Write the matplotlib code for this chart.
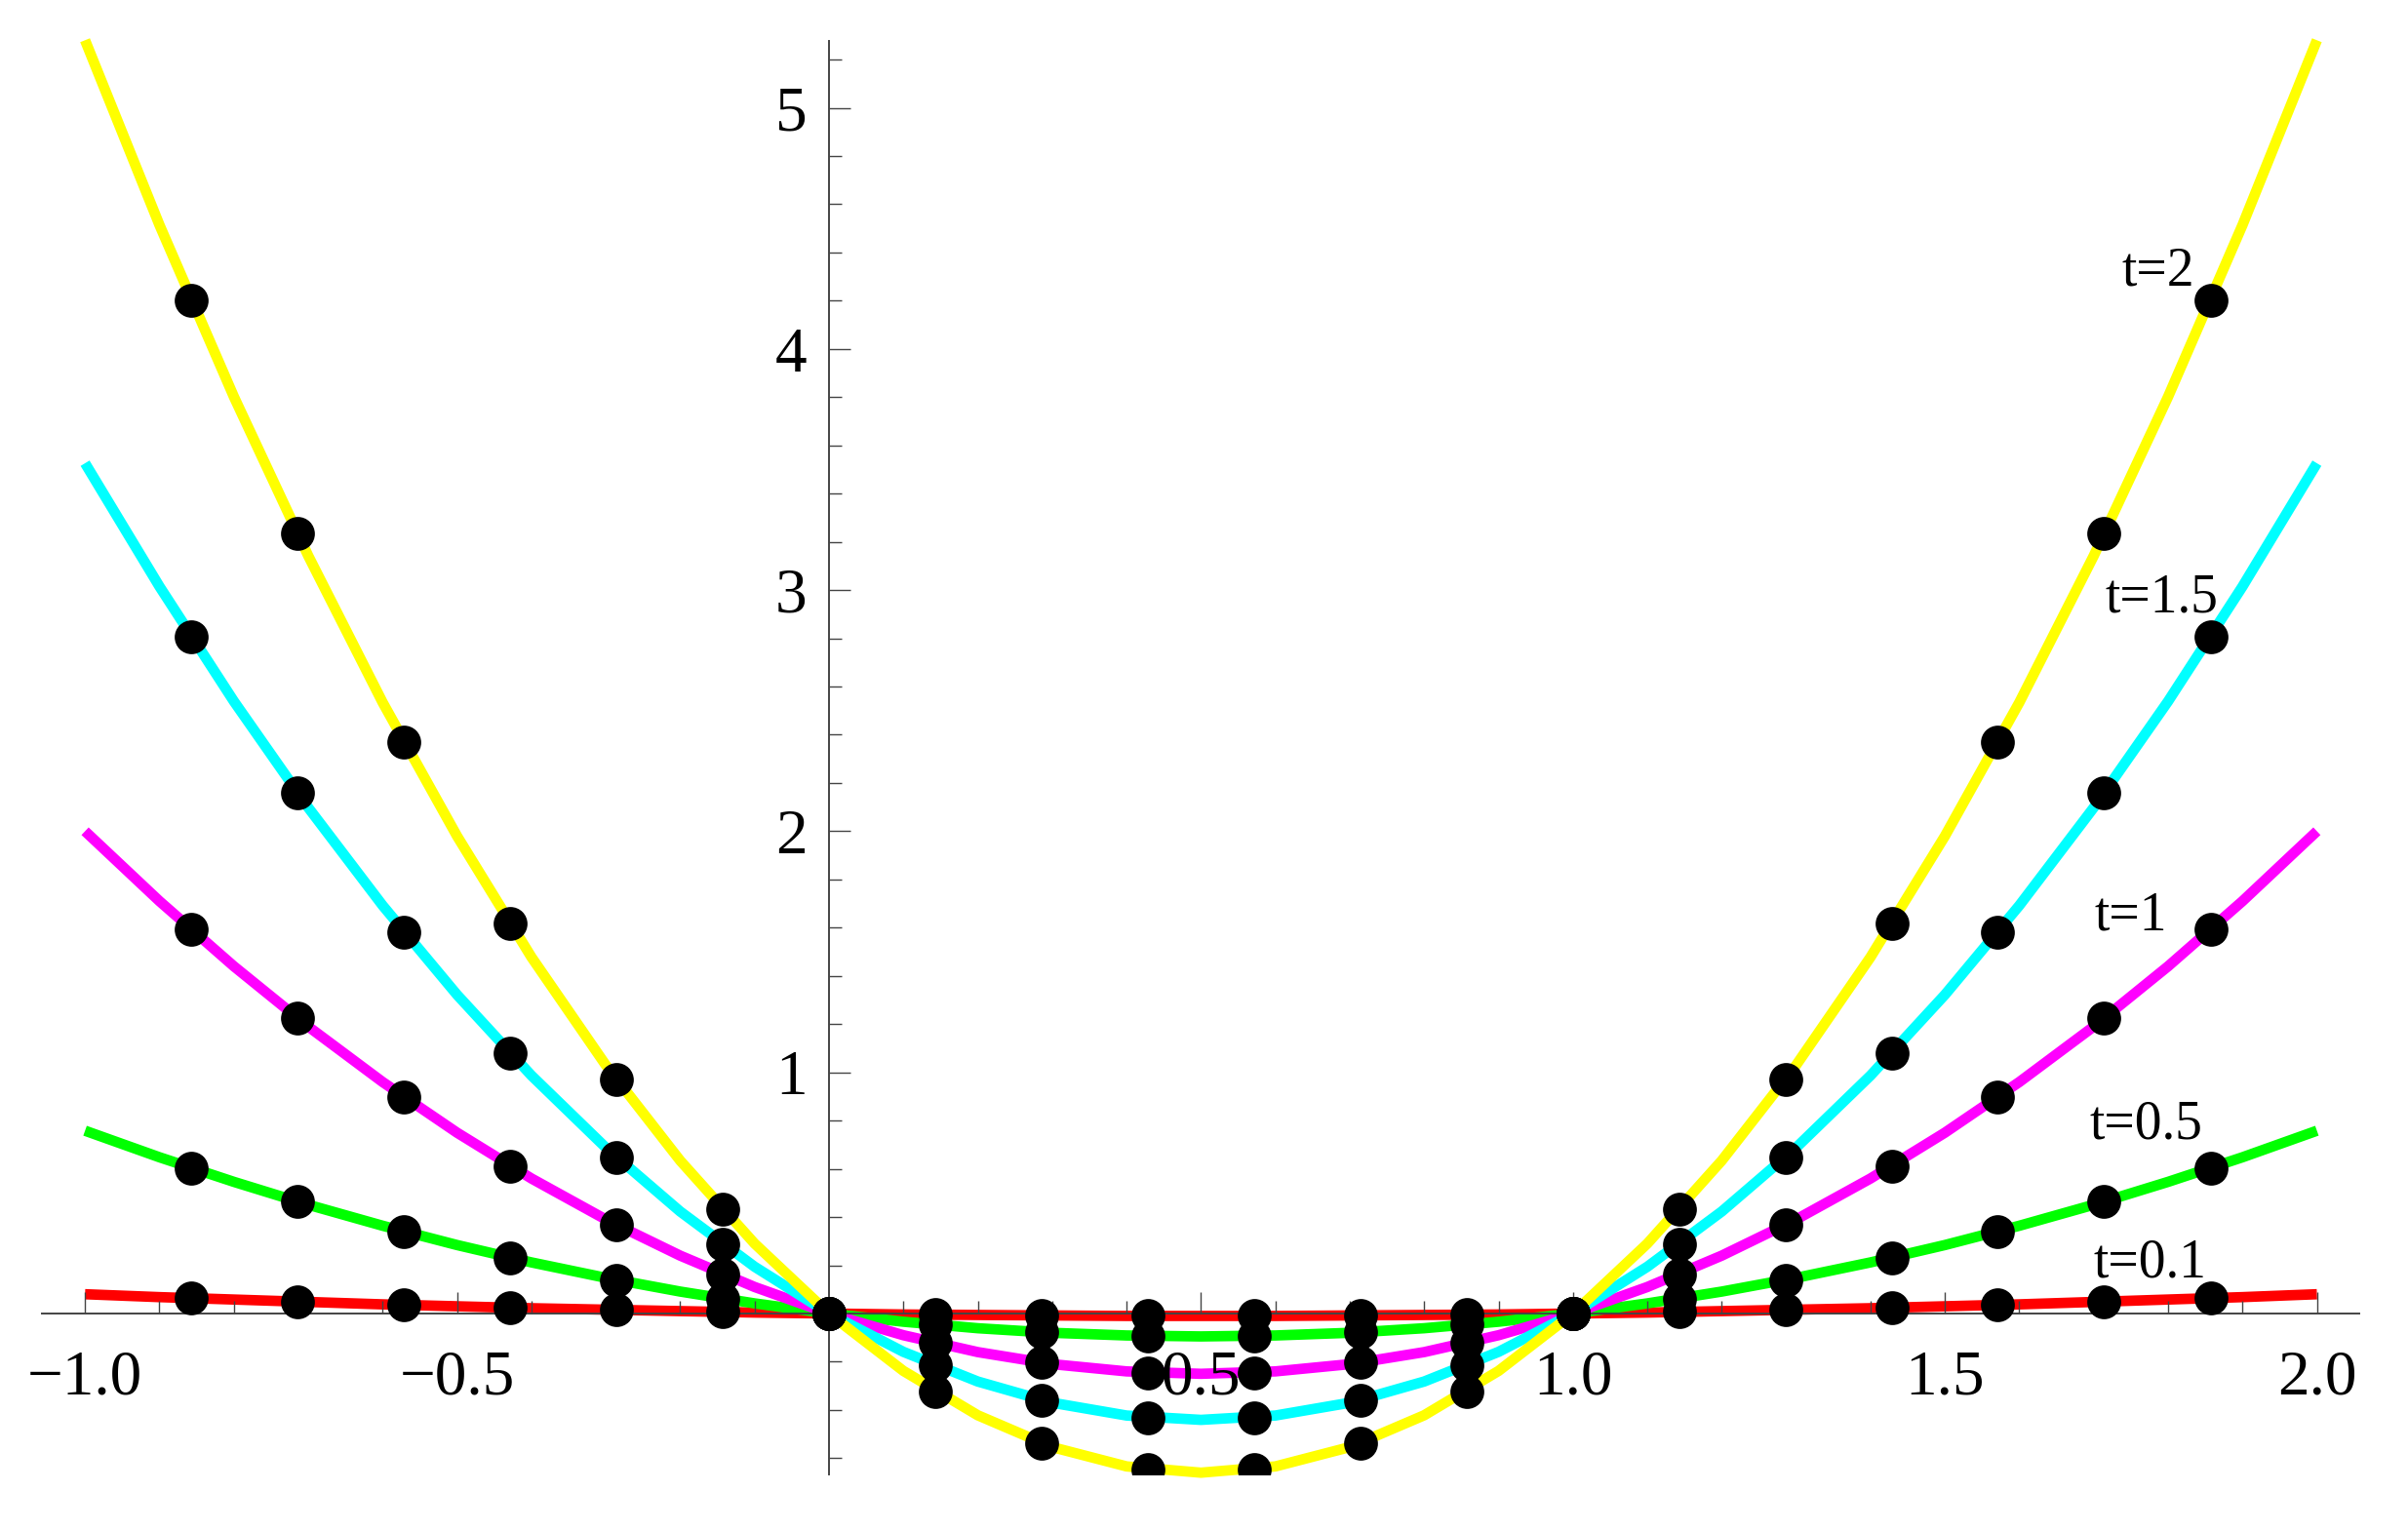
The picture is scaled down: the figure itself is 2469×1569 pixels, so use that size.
import matplotlib
matplotlib.use("Agg")
import matplotlib.pyplot as plt
from matplotlib.ticker import FixedLocator, FixedFormatter

# ---- data ----
labels = ["t=0.1", "t=0.5", "t=1", "t=1.5", "t=2"]
colors = ["#ff0000", "#00ff00", "#ff00ff", "#00ffff", "#ffff00"]

# curve samples (x step 0.1 from -1 to 2)
x_line = [-1.0, -0.9, -0.8, -0.7, -0.6, -0.5, -0.4, -0.3, -0.2, -0.1, 0.0,
          0.1, 0.2, 0.3, 0.4, 0.5, 0.6, 0.7, 0.8, 0.9, 1.0,
          1.1, 1.2, 1.3, 1.4, 1.5, 1.6, 1.7, 1.8, 1.9, 2.0]
y_t01 = [0.080, 0.068, 0.058, 0.048, 0.038, 0.030, 0.022, 0.016, 0.010, 0.004, 0.0,
         -0.004, -0.006, -0.008, -0.010, -0.010, -0.010, -0.008, -0.006, -0.004, 0.0,
         0.004, 0.010, 0.016, 0.022, 0.030, 0.038, 0.048, 0.058, 0.068, 0.080]
y_t05 = [0.758, 0.648, 0.546, 0.451, 0.364, 0.284, 0.212, 0.148, 0.091, 0.042, 0.0,
         -0.034, -0.061, -0.080, -0.091, -0.095, -0.091, -0.080, -0.061, -0.034, 0.0,
         0.042, 0.091, 0.148, 0.212, 0.284, 0.364, 0.451, 0.546, 0.648, 0.758]
y_t1 = [2.00, 1.71, 1.44, 1.19, 0.96, 0.75, 0.56, 0.39, 0.24, 0.11, 0.0,
        -0.09, -0.16, -0.21, -0.24, -0.25, -0.24, -0.21, -0.16, -0.09, 0.0,
        0.11, 0.24, 0.39, 0.56, 0.75, 0.96, 1.19, 1.44, 1.71, 2.00]
y_t15 = [3.526, 3.015, 2.539, 2.098, 1.692, 1.322, 0.987, 0.688, 0.423, 0.194, 0.0,
         -0.159, -0.282, -0.370, -0.423, -0.441, -0.423, -0.370, -0.282, -0.159, 0.0,
         0.194, 0.423, 0.688, 0.987, 1.322, 1.692, 2.098, 2.539, 3.015, 3.526]
y_t2 = [5.280, 4.514, 3.802, 3.142, 2.534, 1.980, 1.478, 1.030, 0.634, 0.290, 0.0,
        -0.238, -0.422, -0.554, -0.634, -0.660, -0.634, -0.554, -0.422, -0.238, 0.0,
        0.290, 0.634, 1.030, 1.478, 1.980, 2.534, 3.142, 3.802, 4.514, 5.280]

# dot samples
x_dots = [-0.857, -0.714, -0.571, -0.429, -0.286, -0.143, 0.0, 0.143, 0.286, 0.429,
          0.571, 0.714, 0.857, 1.0, 1.143, 1.286, 1.429, 1.571, 1.714, 1.857]
d_t01 = [0.064, 0.049, 0.036, 0.024, 0.015, 0.007, 0.0, -0.005, -0.008, -0.010,
         -0.010, -0.008, -0.005, 0.0, 0.007, 0.015, 0.024, 0.036, 0.049, 0.064]
d_t05 = [0.603, 0.464, 0.340, 0.232, 0.139, 0.062, 0.0, -0.046, -0.077, -0.093,
         -0.093, -0.077, -0.046, 0.0, 0.062, 0.139, 0.232, 0.340, 0.464, 0.603]
d_t1 = [1.592, 1.224, 0.898, 0.612, 0.367, 0.163, 0.0, -0.122, -0.204, -0.245,
        -0.245, -0.204, -0.122, 0.0, 0.163, 0.367, 0.612, 0.898, 1.224, 1.592]
d_t15 = [2.806, 2.159, 1.583, 1.079, 0.648, 0.288, 0.0, -0.216, -0.360, -0.432,
         -0.432, -0.360, -0.216, 0.0, 0.288, 0.648, 1.079, 1.583, 2.159, 2.806]
d_t2 = [4.202, 3.233, 2.371, 1.616, 0.970, 0.431, 0.0, -0.323, -0.539, -0.647,
        -0.647, -0.539, -0.323, 0.0, 0.431, 0.970, 1.616, 2.371, 3.233, 4.202]

# label anchor positions (data coords)
label_x = [1.776, 1.771, 1.750, 1.791, 1.786]
label_y = [0.21, 0.784, 1.646, 2.968, 4.32]

x_major = [-1.0, -0.5, 0.5, 1.0, 1.5, 2.0]
x_major_labels = ["\u22121.0", "\u22120.5", "0.5", "1.0", "1.5", "2.0"]
y_major = [1, 2, 3, 4, 5]
y_major_labels = ["1", "2", "3", "4", "5"]

curves = [y_t01, y_t05, y_t1, y_t15, y_t2]
dots = [d_t01, d_t05, d_t1, d_t15, d_t2]

# ---- figure ----
plt.rcParams['font.family'] = ['Liberation Serif', 'DejaVu Serif']
W, H = 2469, 1569
fig = plt.figure(figsize=(W / 100, H / 100), dpi=100)
left_px, right_px, top_px, bottom_px = 43, 2419, 42, 1512
ax = fig.add_axes([left_px / W, 1 - bottom_px / H, (right_px - left_px) / W, (bottom_px - top_px) / H])
x0_px, ux = 850.0, 762.8
y0_px, uy = 1347.0, 247.3
ax.set_xlim((left_px - x0_px) / ux, (right_px - x0_px) / ux)
ax.set_ylim((y0_px - bottom_px) / uy, (y0_px - top_px) / uy)
ax.patch.set_visible(False)

for yc, col in zip(curves, colors):
    ax.plot(x_line, yc, color=col, lw=7.7, solid_capstyle='butt',
            solid_joinstyle='round', zorder=1, clip_on=False)

for yd in dots:
    ax.plot(x_dots, yd, 'o', color='black', ms=25, mew=0, zorder=3)

for lab, lx, ly in zip(labels, label_x, label_y):
    ax.text(lx, ly, lab, fontsize=40, ha='center', va='center', zorder=2.8)

# axes styling (Mathematica-like)
for s in ['top', 'right']:
    ax.spines[s].set_visible(False)
ax.spines['left'].set_position(('data', 0))
ax.spines['bottom'].set_position(('data', 0))
for s in ['left', 'bottom']:
    ax.spines[s].set_color('#444444')
    ax.spines[s].set_linewidth(1.4)
    ax.spines[s].set_zorder(2.5)

ax.xaxis.set_major_locator(FixedLocator(x_major))
ax.xaxis.set_major_formatter(FixedFormatter(x_major_labels))
x_minor = [round(-1.0 + 0.1 * i, 1) for i in range(31)]
x_minor = [v for v in x_minor if abs(v * 2 - round(v * 2)) > 1e-6]
ax.xaxis.set_minor_locator(FixedLocator(x_minor))

ax.yaxis.set_major_locator(FixedLocator(y_major))
ax.yaxis.set_major_formatter(FixedFormatter(y_major_labels))
y_minor = [round(-0.6 + 0.2 * i, 1) for i in range(30)]
y_minor = [v for v in y_minor if abs(v - round(v)) > 1e-6]
ax.yaxis.set_minor_locator(FixedLocator(y_minor))

ax.tick_params(which='both', direction='in', color='#444444', width=1.0)
ax.tick_params(which='major', length=15.8, labelsize=47)
ax.tick_params(which='minor', length=9.4)
ax.tick_params(axis='x', which='major', pad=27)
ax.tick_params(axis='y', which='major', pad=16)
ax.xaxis.set_zorder(2)
ax.yaxis.set_zorder(2)

fig.savefig("out.png", dpi=100)
